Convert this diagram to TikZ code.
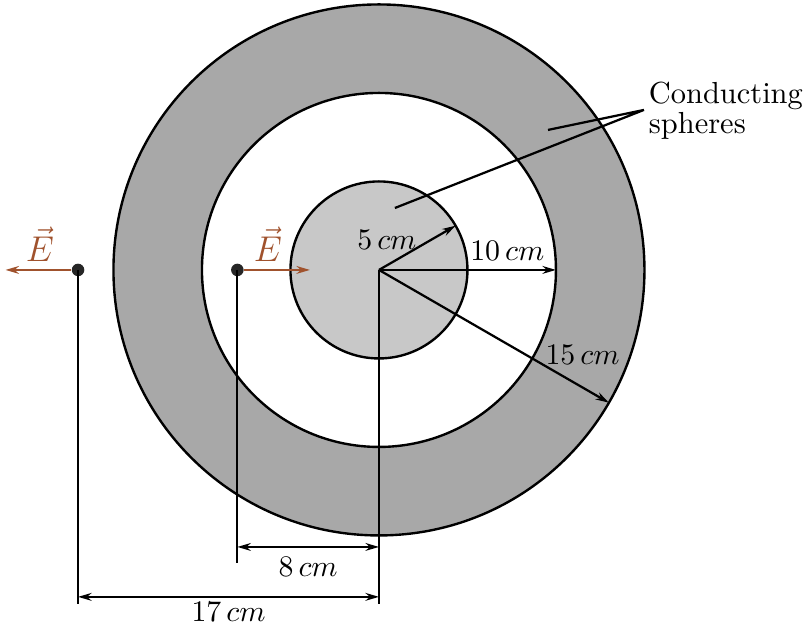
\documentclass[tikz,border=0pt]{standalone}
\usetikzlibrary{arrows.meta}
\definecolor{ringgray}{RGB}{168,168,168}
\definecolor{coregray}{RGB}{200,200,200}
\definecolor{efield}{RGB}{160,82,45}
\begin{document}
\begin{tikzpicture}[x=5.93pt,y=5.93pt,
  outline/.style={draw=black,line width=0.8pt},
  dimline/.style={line width=0.75pt},
  tipped/.style={line width=0.75pt,-{Stealth[length=4.5pt,width=2.6pt]}},
  twotip/.style={line width=0.75pt,{Stealth[length=4.5pt,width=2.6pt]}-{Stealth[length=4.5pt,width=2.6pt]}},
  earrow/.style={line width=0.9pt,draw=efield,-{Stealth[length=4.5pt,width=2.6pt]}},
  elabel/.style={text=efield,font=\large,inner sep=0.5pt},
  dot/.style={circle,fill=black!85,inner sep=0pt,minimum size=4.2pt},
  lbl/.style={inner sep=1pt}]
\useasboundingbox (-21.41,-20.06) rectangle (24.24,15.25);
\coordinate (O) at (0,0);
% spheres
\fill[ringgray] (O) circle (15);
\draw[outline] (O) circle (15);
\fill[white] (O) circle (10);
\draw[outline] (O) circle (10);
\fill[coregray] (O) circle (5);
\draw[outline] (O) circle (5);
% radius arrows
\coordinate (R5) at (30:5);
\coordinate (R10) at (0:10);
\coordinate (R15) at (-30:15);
\draw[tipped] (O) -- (R5);
\draw[tipped] (O) -- (R10);
\draw[tipped] (O) -- (R15);
\node[lbl] (l5) at (0.45,1.7) {$5\,cm$};
\node[lbl] (l10) at (7.25,1.05) {$10\,cm$};
\node[lbl] (l15) at (11.5,-4.8) {$15\,cm$};
% label for conducting spheres
\node[lbl,anchor=west,align=left,font=\fontsize{10.2}{10}\selectfont] (cs) at (15.05,9.0) {Conducting\\spheres};
\coordinate (apex) at (14.97,9.04);
\coordinate (s1) at (9.55,7.91);
\coordinate (s2) at (0.9,3.5);
\draw[dimline] (s1) -- (apex) -- (s2);
% points
\node[dot] (P1) at (-8,0) {};
\node[dot] (P2) at (-17,0) {};
\coordinate (E1) at (-3.9,0);
\coordinate (E2) at (-21.1,0);
\draw[earrow] (P1) -- (E1);
\draw[earrow] (P2) -- (E2);
\node[elabel] (e1) at (-6.27,1.45) {$\vec{E}$};
\node[elabel] (e2) at (-19.15,1.45) {$\vec{E}$};
% extension lines
\coordinate (P1b) at (-8,-16.55);
\coordinate (P2b) at (-17,-18.9);
\coordinate (Ob) at (0,-18.9);
\draw[dimline] (P1.center) -- (P1b);
\draw[dimline] (P2.center) -- (P2b);
\draw[dimline] (O) -- (Ob);
% dimensions
\coordinate (d8a) at (-8,-15.65);
\coordinate (d8b) at (0,-15.65);
\coordinate (d17a) at (-17,-18.47);
\coordinate (d17b) at (0,-18.47);
\draw[twotip] (d8a) -- (d8b);
\draw[twotip] (d17a) -- (d17b);
\node[lbl] (l8) at (-4,-16.75) {$8\,cm$};
\node[lbl] (l17) at (-8.5,-19.3) {$17\,cm$};
\end{tikzpicture}
\end{document}
